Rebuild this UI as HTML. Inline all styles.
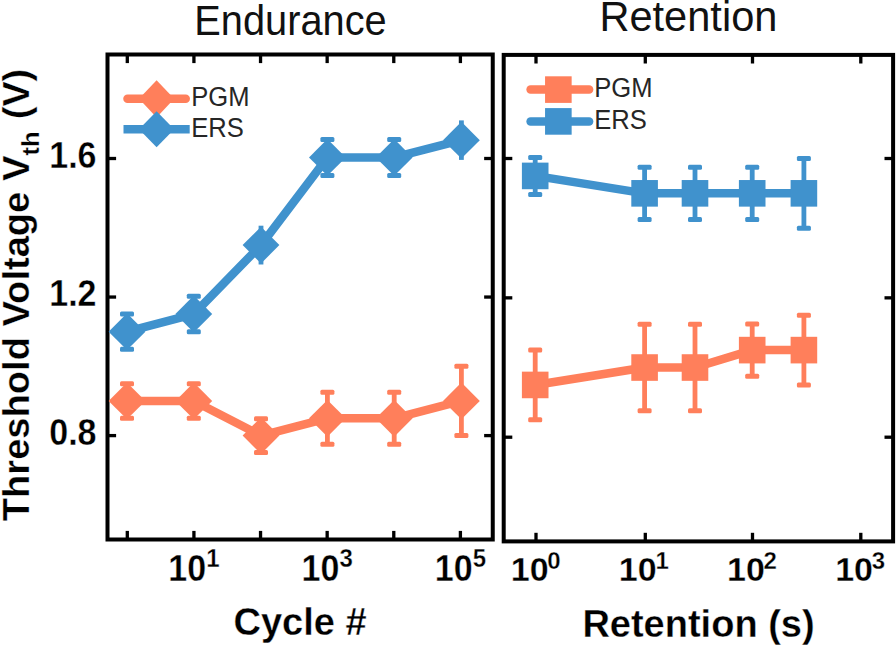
<!DOCTYPE html>
<html><head><meta charset="utf-8"><style>
html,body{margin:0;padding:0;background:#fff;}
svg{display:block;}
</style></head><body>
<svg width="896" height="646" viewBox="0 0 896 646">
<rect x="107.5" y="54.5" width="385.25" height="485.00" fill="none" stroke="#000" stroke-width="4"/><rect x="125.65" y="54.50" width="3.3" height="8.6" fill="#000"/><rect x="125.65" y="530.90" width="3.3" height="8.6" fill="#000"/><rect x="192.27" y="54.50" width="3.3" height="8.6" fill="#000"/><rect x="192.27" y="530.90" width="3.3" height="8.6" fill="#000"/><rect x="258.89" y="54.50" width="3.3" height="8.6" fill="#000"/><rect x="258.89" y="530.90" width="3.3" height="8.6" fill="#000"/><rect x="325.51" y="54.50" width="3.3" height="8.6" fill="#000"/><rect x="325.51" y="530.90" width="3.3" height="8.6" fill="#000"/><rect x="392.13" y="54.50" width="3.3" height="8.6" fill="#000"/><rect x="392.13" y="530.90" width="3.3" height="8.6" fill="#000"/><rect x="458.75" y="54.50" width="3.3" height="8.6" fill="#000"/><rect x="458.75" y="530.90" width="3.3" height="8.6" fill="#000"/><rect x="107.50" y="156.85" width="8.6" height="3.3" fill="#000"/><rect x="484.15" y="156.85" width="8.6" height="3.3" fill="#000"/><rect x="107.50" y="295.40" width="8.6" height="3.3" fill="#000"/><rect x="484.15" y="295.40" width="8.6" height="3.3" fill="#000"/><rect x="107.50" y="433.95" width="8.6" height="3.3" fill="#000"/><rect x="484.15" y="433.95" width="8.6" height="3.3" fill="#000"/>
<rect x="503.7" y="54.9" width="389.40" height="486.50" fill="none" stroke="#000" stroke-width="4"/><rect x="534.35" y="54.90" width="3.3" height="8.6" fill="#000"/><rect x="534.35" y="532.80" width="3.3" height="8.6" fill="#000"/><rect x="643.65" y="54.90" width="3.3" height="8.6" fill="#000"/><rect x="643.65" y="532.80" width="3.3" height="8.6" fill="#000"/><rect x="750.85" y="54.90" width="3.3" height="8.6" fill="#000"/><rect x="750.85" y="532.80" width="3.3" height="8.6" fill="#000"/><rect x="859.15" y="54.90" width="3.3" height="8.6" fill="#000"/><rect x="859.15" y="532.80" width="3.3" height="8.6" fill="#000"/><rect x="503.70" y="156.85" width="8.6" height="3.3" fill="#000"/><rect x="884.50" y="156.85" width="8.6" height="3.3" fill="#000"/><rect x="503.70" y="296.20" width="8.6" height="3.3" fill="#000"/><rect x="884.50" y="296.20" width="8.6" height="3.3" fill="#000"/><rect x="503.70" y="435.55" width="8.6" height="3.3" fill="#000"/><rect x="884.50" y="435.55" width="8.6" height="3.3" fill="#000"/>
<polyline points="127.00,400.96 193.80,400.96 261.00,435.60 327.40,418.28 394.20,418.28 461.40,400.96" fill="none" stroke="#FF7F5B" stroke-width="8.5" stroke-linejoin="round"/><rect x="124.60" y="383.64" width="4.8" height="34.64" fill="#FF7F5B"/><rect x="120.00" y="381.14" width="14" height="5" rx="1.5" fill="#FF7F5B"/><rect x="120.00" y="415.78" width="14" height="5" rx="1.5" fill="#FF7F5B"/><rect x="191.40" y="383.64" width="4.8" height="34.64" fill="#FF7F5B"/><rect x="186.80" y="381.14" width="14" height="5" rx="1.5" fill="#FF7F5B"/><rect x="186.80" y="415.78" width="14" height="5" rx="1.5" fill="#FF7F5B"/><rect x="258.60" y="418.63" width="4.8" height="33.94" fill="#FF7F5B"/><rect x="254.00" y="416.13" width="14" height="5" rx="1.5" fill="#FF7F5B"/><rect x="254.00" y="450.07" width="14" height="5" rx="1.5" fill="#FF7F5B"/><rect x="325.00" y="392.30" width="4.8" height="51.96" fill="#FF7F5B"/><rect x="320.40" y="389.80" width="14" height="5" rx="1.5" fill="#FF7F5B"/><rect x="320.40" y="441.76" width="14" height="5" rx="1.5" fill="#FF7F5B"/><rect x="391.80" y="392.30" width="4.8" height="51.96" fill="#FF7F5B"/><rect x="387.20" y="389.80" width="14" height="5" rx="1.5" fill="#FF7F5B"/><rect x="387.20" y="441.76" width="14" height="5" rx="1.5" fill="#FF7F5B"/><rect x="459.00" y="366.33" width="4.8" height="69.28" fill="#FF7F5B"/><rect x="454.40" y="363.83" width="14" height="5" rx="1.5" fill="#FF7F5B"/><rect x="454.40" y="433.10" width="14" height="5" rx="1.5" fill="#FF7F5B"/><path d="M127.00 382.56L145.40 400.96L127.00 419.36L108.60 400.96Z" fill="#FF7F5B"/><path d="M193.80 382.56L212.20 400.96L193.80 419.36L175.40 400.96Z" fill="#FF7F5B"/><path d="M261.00 417.20L279.40 435.60L261.00 454.00L242.60 435.60Z" fill="#FF7F5B"/><path d="M327.40 399.88L345.80 418.28L327.40 436.68L309.00 418.28Z" fill="#FF7F5B"/><path d="M394.20 399.88L412.60 418.28L394.20 436.68L375.80 418.28Z" fill="#FF7F5B"/><path d="M461.40 382.56L479.80 400.96L461.40 419.36L443.00 400.96Z" fill="#FF7F5B"/><polyline points="127.00,331.69 193.80,314.02 261.00,245.09 327.40,157.46 394.20,157.46 461.40,140.14" fill="none" stroke="#4092CD" stroke-width="8.5" stroke-linejoin="round"/><rect x="124.60" y="314.02" width="4.8" height="35.33" fill="#4092CD"/><rect x="120.00" y="311.52" width="14" height="5" rx="1.5" fill="#4092CD"/><rect x="120.00" y="346.85" width="14" height="5" rx="1.5" fill="#4092CD"/><rect x="191.40" y="296.36" width="4.8" height="35.33" fill="#4092CD"/><rect x="186.80" y="293.86" width="14" height="5" rx="1.5" fill="#4092CD"/><rect x="186.80" y="329.19" width="14" height="5" rx="1.5" fill="#4092CD"/><rect x="258.60" y="225.70" width="4.8" height="38.79" fill="#4092CD"/><rect x="325.00" y="139.45" width="4.8" height="36.02" fill="#4092CD"/><rect x="320.40" y="136.95" width="14" height="5" rx="1.5" fill="#4092CD"/><rect x="320.40" y="172.97" width="14" height="5" rx="1.5" fill="#4092CD"/><rect x="391.80" y="139.45" width="4.8" height="36.02" fill="#4092CD"/><rect x="387.20" y="136.95" width="14" height="5" rx="1.5" fill="#4092CD"/><rect x="387.20" y="172.97" width="14" height="5" rx="1.5" fill="#4092CD"/><rect x="459.00" y="120.40" width="4.8" height="39.49" fill="#4092CD"/><path d="M127.00 313.29L145.40 331.69L127.00 350.09L108.60 331.69Z" fill="#4092CD"/><path d="M193.80 295.62L212.20 314.02L193.80 332.42L175.40 314.02Z" fill="#4092CD"/><path d="M261.00 226.69L279.40 245.09L261.00 263.49L242.60 245.09Z" fill="#4092CD"/><path d="M327.40 139.06L345.80 157.46L327.40 175.86L309.00 157.46Z" fill="#4092CD"/><path d="M394.20 139.06L412.60 157.46L394.20 175.86L375.80 157.46Z" fill="#4092CD"/><path d="M461.40 121.74L479.80 140.14L461.40 158.54L443.00 140.14Z" fill="#4092CD"/>
<polyline points="535.20,384.94 644.60,367.53 695.00,367.53 752.20,350.11 803.90,350.11" fill="none" stroke="#FF7F5B" stroke-width="8.5" stroke-linejoin="round"/><rect x="532.80" y="350.11" width="4.8" height="69.67" fill="#FF7F5B"/><rect x="528.20" y="347.61" width="14" height="5" rx="1.5" fill="#FF7F5B"/><rect x="528.20" y="417.28" width="14" height="5" rx="1.5" fill="#FF7F5B"/><rect x="642.20" y="324.33" width="4.8" height="86.40" fill="#FF7F5B"/><rect x="637.60" y="321.83" width="14" height="5" rx="1.5" fill="#FF7F5B"/><rect x="637.60" y="408.22" width="14" height="5" rx="1.5" fill="#FF7F5B"/><rect x="692.60" y="324.33" width="4.8" height="86.40" fill="#FF7F5B"/><rect x="688.00" y="321.83" width="14" height="5" rx="1.5" fill="#FF7F5B"/><rect x="688.00" y="408.22" width="14" height="5" rx="1.5" fill="#FF7F5B"/><rect x="749.80" y="323.98" width="4.8" height="52.26" fill="#FF7F5B"/><rect x="745.20" y="321.48" width="14" height="5" rx="1.5" fill="#FF7F5B"/><rect x="745.20" y="373.73" width="14" height="5" rx="1.5" fill="#FF7F5B"/><rect x="801.50" y="315.27" width="4.8" height="69.67" fill="#FF7F5B"/><rect x="796.90" y="312.77" width="14" height="5" rx="1.5" fill="#FF7F5B"/><rect x="796.90" y="382.44" width="14" height="5" rx="1.5" fill="#FF7F5B"/><rect x="521.90" y="371.64" width="26.60" height="26.60" fill="#FF7F5B"/><rect x="631.30" y="354.23" width="26.60" height="26.60" fill="#FF7F5B"/><rect x="681.70" y="354.23" width="26.60" height="26.60" fill="#FF7F5B"/><rect x="738.90" y="336.81" width="26.60" height="26.60" fill="#FF7F5B"/><rect x="790.60" y="336.81" width="26.60" height="26.60" fill="#FF7F5B"/><polyline points="535.20,175.92 644.60,193.34 695.00,193.34 752.20,193.34 803.90,193.34" fill="none" stroke="#4092CD" stroke-width="8.5" stroke-linejoin="round"/><rect x="532.80" y="157.45" width="4.8" height="36.93" fill="#4092CD"/><rect x="528.20" y="154.95" width="14" height="5" rx="1.5" fill="#4092CD"/><rect x="528.20" y="191.88" width="14" height="5" rx="1.5" fill="#4092CD"/><rect x="642.20" y="167.21" width="4.8" height="52.26" fill="#4092CD"/><rect x="637.60" y="164.71" width="14" height="5" rx="1.5" fill="#4092CD"/><rect x="637.60" y="216.97" width="14" height="5" rx="1.5" fill="#4092CD"/><rect x="692.60" y="167.21" width="4.8" height="52.26" fill="#4092CD"/><rect x="688.00" y="164.71" width="14" height="5" rx="1.5" fill="#4092CD"/><rect x="688.00" y="216.97" width="14" height="5" rx="1.5" fill="#4092CD"/><rect x="749.80" y="167.21" width="4.8" height="52.26" fill="#4092CD"/><rect x="745.20" y="164.71" width="14" height="5" rx="1.5" fill="#4092CD"/><rect x="745.20" y="216.97" width="14" height="5" rx="1.5" fill="#4092CD"/><rect x="801.50" y="158.50" width="4.8" height="69.67" fill="#4092CD"/><rect x="796.90" y="156.00" width="14" height="5" rx="1.5" fill="#4092CD"/><rect x="796.90" y="225.68" width="14" height="5" rx="1.5" fill="#4092CD"/><rect x="521.90" y="162.62" width="26.60" height="26.60" fill="#4092CD"/><rect x="631.30" y="180.04" width="26.60" height="26.60" fill="#4092CD"/><rect x="681.70" y="180.04" width="26.60" height="26.60" fill="#4092CD"/><rect x="738.90" y="180.04" width="26.60" height="26.60" fill="#4092CD"/><rect x="790.60" y="180.04" width="26.60" height="26.60" fill="#4092CD"/>
<line x1="127.50" y1="98.80" x2="185.70" y2="98.80" stroke="#FF7F5B" stroke-width="8.5" stroke-linecap="round"/><path d="M156.60 80.20L174.20 98.80L156.60 117.40L139.00 98.80Z" fill="#FF7F5B"/>
<line x1="123.50" y1="129.30" x2="189.70" y2="129.30" stroke="#4092CD" stroke-width="8.5" stroke-linecap="butt"/><path d="M156.60 111.30L174.20 129.30L156.60 147.30L139.00 129.30Z" fill="#4092CD"/>
<line x1="530.60" y1="89.60" x2="589.10" y2="89.60" stroke="#FF7F5B" stroke-width="8.5" stroke-linecap="round"/><rect x="545.05" y="76.30" width="26.60" height="26.60" fill="#FF7F5B"/>
<line x1="530.60" y1="121.40" x2="589.10" y2="121.40" stroke="#4092CD" stroke-width="8.5" stroke-linecap="round"/><rect x="545.05" y="108.10" width="26.60" height="26.60" fill="#4092CD"/>
<text transform="translate(191.30,106.10) scale(0.965,1.05)" font-family="Liberation Sans" font-size="26.5" font-weight="normal" text-anchor="start" fill="#262626"  >PGM</text>
<text transform="translate(191.30,136.60) scale(0.965,1.05)" font-family="Liberation Sans" font-size="26.5" font-weight="normal" text-anchor="start" fill="#262626"  >ERS</text>
<text transform="translate(594.30,97.00) scale(0.965,1.05)" font-family="Liberation Sans" font-size="26.5" font-weight="normal" text-anchor="start" fill="#262626"  >PGM</text>
<text transform="translate(594.30,129.00) scale(0.965,1.05)" font-family="Liberation Sans" font-size="26.5" font-weight="normal" text-anchor="start" fill="#262626"  >ERS</text>
<text transform="translate(96.50,167.70) scale(1,1.09)" font-family="Liberation Sans" font-size="34" font-weight="bold" text-anchor="end" fill="#000" stroke="#fff" stroke-width="0.3" >1.6</text>
<text transform="translate(96.50,306.25) scale(1,1.09)" font-family="Liberation Sans" font-size="34" font-weight="bold" text-anchor="end" fill="#000" stroke="#fff" stroke-width="0.3" >1.2</text>
<text transform="translate(96.50,444.80) scale(1,1.09)" font-family="Liberation Sans" font-size="34" font-weight="bold" text-anchor="end" fill="#000" stroke="#fff" stroke-width="0.3" >0.8</text>
<text transform="translate(168.34,581.00) scale(1,1.1)" font-family="Liberation Sans" font-size="34" font-weight="bold" text-anchor="start" fill="#000" stroke="#fff" stroke-width="0.3" >10</text><text transform="translate(206.15,567.00) scale(1,1.1)" font-family="Liberation Sans" font-size="24" font-weight="bold" text-anchor="start" fill="#000" stroke="#fff" stroke-width="0.3" >1</text>
<text transform="translate(301.58,581.00) scale(1,1.1)" font-family="Liberation Sans" font-size="34" font-weight="bold" text-anchor="start" fill="#000" stroke="#fff" stroke-width="0.3" >10</text><text transform="translate(339.39,567.00) scale(1,1.1)" font-family="Liberation Sans" font-size="24" font-weight="bold" text-anchor="start" fill="#000" stroke="#fff" stroke-width="0.3" >3</text>
<text transform="translate(434.82,581.00) scale(1,1.1)" font-family="Liberation Sans" font-size="34" font-weight="bold" text-anchor="start" fill="#000" stroke="#fff" stroke-width="0.3" >10</text><text transform="translate(472.63,567.00) scale(1,1.1)" font-family="Liberation Sans" font-size="24" font-weight="bold" text-anchor="start" fill="#000" stroke="#fff" stroke-width="0.3" >5</text>
<text transform="translate(510.72,581.00) scale(1,1.0)" font-family="Liberation Sans" font-size="34" font-weight="bold" text-anchor="start" fill="#000" stroke="#fff" stroke-width="0.3" >10</text><text transform="translate(547.23,568.60) scale(1,1.0)" font-family="Liberation Sans" font-size="24" font-weight="bold" text-anchor="start" fill="#000" stroke="#fff" stroke-width="0.3" >0</text>
<text transform="translate(618.87,581.00) scale(1,1.0)" font-family="Liberation Sans" font-size="34" font-weight="bold" text-anchor="start" fill="#000" stroke="#fff" stroke-width="0.3" >10</text><text transform="translate(655.38,568.60) scale(1,1.0)" font-family="Liberation Sans" font-size="24" font-weight="bold" text-anchor="start" fill="#000" stroke="#fff" stroke-width="0.3" >1</text>
<text transform="translate(727.02,581.00) scale(1,1.0)" font-family="Liberation Sans" font-size="34" font-weight="bold" text-anchor="start" fill="#000" stroke="#fff" stroke-width="0.3" >10</text><text transform="translate(763.53,568.60) scale(1,1.0)" font-family="Liberation Sans" font-size="24" font-weight="bold" text-anchor="start" fill="#000" stroke="#fff" stroke-width="0.3" >2</text>
<text transform="translate(835.17,581.00) scale(1,1.0)" font-family="Liberation Sans" font-size="34" font-weight="bold" text-anchor="start" fill="#000" stroke="#fff" stroke-width="0.3" >10</text><text transform="translate(871.68,568.60) scale(1,1.0)" font-family="Liberation Sans" font-size="24" font-weight="bold" text-anchor="start" fill="#000" stroke="#fff" stroke-width="0.3" >3</text>
<text transform="translate(300.00,634.90) scale(1,1)" font-family="Liberation Sans" font-size="38" font-weight="bold" text-anchor="middle" fill="#000" stroke="#fff" stroke-width="0.3" >Cycle #</text>
<text transform="translate(698.50,637.00) scale(1,1)" font-family="Liberation Sans" font-size="38" font-weight="bold" text-anchor="middle" fill="#000" stroke="#fff" stroke-width="0.3" >Retention (s)</text>
<text transform="translate(290.50,34.80) scale(0.947,1)" font-family="Liberation Sans" font-size="42" font-weight="normal" text-anchor="middle" fill="#111"  >Endurance</text>
<text transform="translate(688.40,31.40) scale(0.99,1)" font-family="Liberation Sans" font-size="42" font-weight="normal" text-anchor="middle" fill="#111"  >Retention</text>
<text transform="translate(28.50,521.20) rotate(-90) scale(1.03,1)" font-family="Liberation Sans" font-size="37" font-weight="bold" text-anchor="start" stroke="#fff" stroke-width="0.3">Threshold Voltage V</text>
<text transform="translate(38.50,155.60) rotate(-90) scale(1.07,1)" font-family="Liberation Sans" font-size="24" font-weight="bold" text-anchor="start" stroke="#fff" stroke-width="0.3">th</text>
<text transform="translate(28.50,119.00) rotate(-90) scale(1.015,1)" font-family="Liberation Sans" font-size="37" font-weight="bold" text-anchor="start" stroke="#fff" stroke-width="0.3">(V)</text>
</svg>
</body></html>
